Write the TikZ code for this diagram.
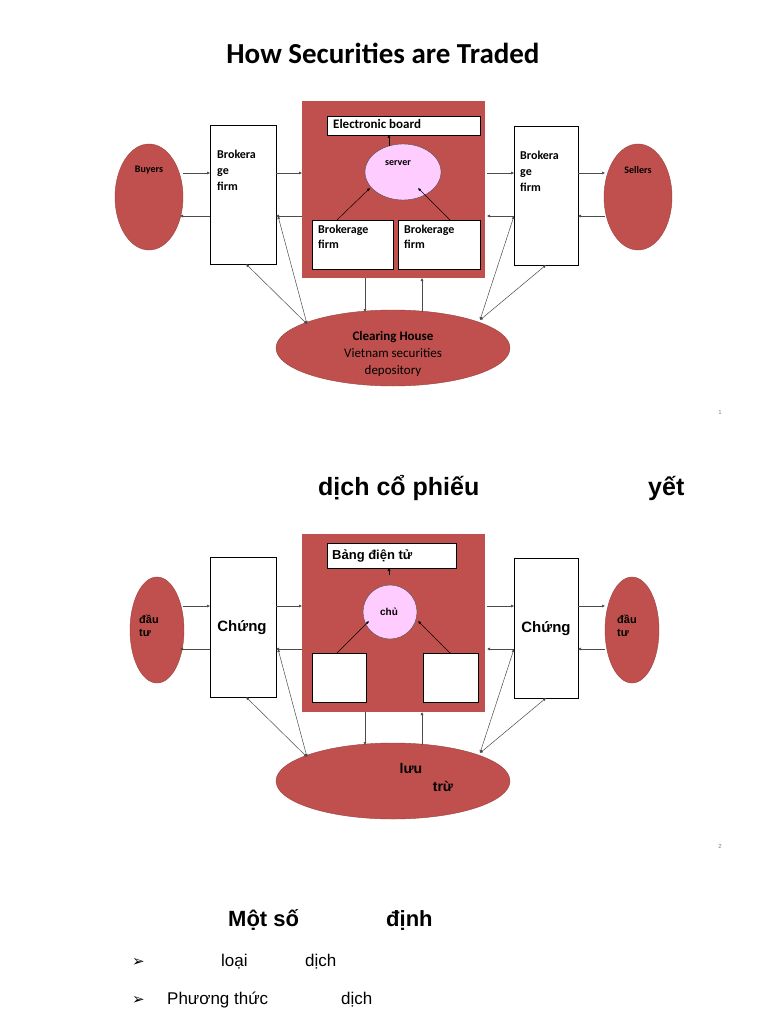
\documentclass[tikz,border=0pt]{standalone}
\usepackage{fontspec}
\setmainfont{Carlito}
\newfontfamily\arial{Liberation Sans}
\newfontfamily\dejavu{DejaVu Sans}
\usetikzlibrary{arrows.meta,shapes.geometric}
\definecolor{rd}{HTML}{C0504D}
\definecolor{pk}{HTML}{FFCCFF}
\begin{document}
\begin{tikzpicture}[x=1pt,y=-1pt,
  redell/.style={ellipse,fill=rd,draw=rd!80!black,line width=0.4pt},
  wbox/.style={draw=black,fill=white,line width=0.6pt},
  arr/.style={draw=gray!60!black,line width=0.5pt,-{Latex[length=3pt,width=3pt]}},
  darr/.style={draw=gray!60!black,line width=0.5pt,{Latex[length=3pt,width=3pt]}-{Latex[length=3pt,width=3pt]}},
  lab/.style={font=\bfseries\fontsize{12}{14}\selectfont,align=left,anchor=north west,inner sep=0pt},
  alab/.style={font=\arial\bfseries\fontsize{13}{15}\selectfont,align=left,inner sep=0pt}]
\useasboundingbox (0,0) rectangle (768,1024);
\fill[white] (0,0) rectangle (768,1024);
% ===== Diagram 1 =====
\node[font=\bfseries\fontsize{29}{34}\selectfont] (t1) at (383,53) {How Securities are Traded};
\node[redell,minimum width=68,minimum height=106] (buy) at (149,197) {};
\node[font=\bfseries\fontsize{10}{12}\selectfont] (buyl) at (149,170) {Buyers};
\node[redell,minimum width=68,minimum height=106] (sel) at (638,197) {};
\node[font=\bfseries\fontsize{10}{12}\selectfont] (sell) at (638,170) {Sellers};
\path[wbox] (210,125) rectangle (276,264); \coordinate (lb) at (243,194);
\node[lab] (lbt) at (217,150) {Brokera\\[2pt]ge\\[2pt]firm};
\path[wbox] (514,126) rectangle (578,265);
\node[lab] (rbt) at (520,151) {Brokera\\[2pt]ge\\[2pt]firm};
\fill[rd] (302,101) rectangle (485,278);
\path[wbox] (327,116) rectangle (480,135);
\node[lab,font=\bfseries\fontsize{13}{14}\selectfont] (eb) at (333,119) {Electronic board};
\node[ellipse,draw=black!70,fill=pk,minimum width=76,minimum height=56] (srv) at (403,172) {};
\node[font=\bfseries\fontsize{10}{12}\selectfont] (srvl) at (398,163) {server};
\path[wbox] (312,220) rectangle (393,269);
\path[wbox] (398,220) rectangle (480,269);
\node[lab] (bf1) at (318,225) {Brokerage\\[1pt]firm};
\node[lab] (bf2) at (404,225) {Brokerage\\[1pt]firm};
\node[redell,minimum width=234,minimum height=76] (ch) at (393,348) {};
\node[font=\fontsize{13}{17}\selectfont,align=center] (chl) at (393,354) {\textbf{Clearing House}\\Vietnam securities\\depository};
\draw[arr] (183,173) -- (210,173);
\draw[arr] (276,173) -- (302,173);
\draw[arr] (487,173) -- (514,173);
\draw[arr] (578,173) -- (605,173);
\draw[arr] (302,216) -- (276,216);
\draw[arr] (210,216) -- (180,216);
\draw[arr] (514,216) -- (487,216);
\draw[arr] (605,216) -- (578,216);
\draw[arr,draw=black] (389,146) -- (389,135);
\draw[arr,draw=black] (337,220) -- (370,188);
\draw[arr,draw=black] (450,220) -- (418,188);
\draw[arr] (365,278) -- (365,312);
\draw[arr] (422,312) -- (422,278);
\draw[darr] (246,264) -- (307,324);
\draw[darr] (278,216) -- (307,324);
\draw[darr] (514,216) -- (480,320);
\draw[darr] (546,265) -- (480,320);
\node[font=\arial\fontsize{6}{7}\selectfont,text=gray] (p1) at (720,412) {1};
% ===== Diagram 2 =====
\node[font=\arial\bfseries\fontsize{25}{30}\selectfont,anchor=west,inner sep=0pt] (t2a) at (318,488) {dịch cổ phiếu};
\node[font=\arial\bfseries\fontsize{25}{30}\selectfont,anchor=west,inner sep=0pt] (t2b) at (648,488) {yết};
\node[redell,minimum width=54,minimum height=106] (dt1) at (157,630) {};
\node[alab,font=\arial\bfseries\fontsize{11}{13}\selectfont] (dt1l) at (149,626) {đầu\\tư};
\node[redell,minimum width=54,minimum height=106] (dt2) at (632,630) {};
\node[alab,font=\arial\bfseries\fontsize{11}{13}\selectfont] (dt2l) at (627,626) {đầu\\tư};
\path[wbox] (210,557) rectangle (276,697);
\node[alab,font=\arial\bfseries\fontsize{15}{17}\selectfont] (c1) at (242,628) {Chứng};
\path[wbox] (514,558) rectangle (578,698);
\node[alab,font=\arial\bfseries\fontsize{15}{17}\selectfont] (c2) at (546,629) {Chứng};
\fill[rd] (302,534) rectangle (485,712);
\path[wbox] (327,543) rectangle (456,568);
\node[alab,anchor=west] (bdt) at (332,556) {Bảng điện tử};
\node[circle,draw=black!70,fill=pk,minimum size=54] (chu) at (390,612) {};
\node[alab,font=\arial\bfseries\fontsize{10}{12}\selectfont] (chul) at (389,612) {chủ};
\path[wbox] (312,653) rectangle (366,702);
\path[wbox] (423,653) rectangle (478,702);
\node[redell,minimum width=234,minimum height=76] (lt) at (393,781) {};
\node[alab,font=\arial\bfseries\fontsize{14}{16}\selectfont] (ltl1) at (411,768) {lưu};
\node[alab,font=\arial\bfseries\fontsize{14}{16}\selectfont] (ltl2) at (443,786) {trừ};
\draw[arr] (183,606) -- (210,606);
\draw[arr] (276,606) -- (302,606);
\draw[arr] (487,606) -- (514,606);
\draw[arr] (578,606) -- (605,606);
\draw[arr] (302,649) -- (276,649);
\draw[arr] (210,649) -- (180,649);
\draw[arr] (514,649) -- (487,649);
\draw[arr] (605,649) -- (578,649);
\draw[arr,draw=black] (389,575) -- (389,568);
\draw[arr,draw=black] (337,653) -- (369,621);
\draw[arr,draw=black] (450,653) -- (418,621);
\draw[arr] (365,712) -- (365,745);
\draw[arr] (422,745) -- (422,712);
\draw[darr] (246,697) -- (307,757);
\draw[darr] (278,649) -- (307,757);
\draw[darr] (514,649) -- (480,753);
\draw[darr] (546,698) -- (480,753);
\node[font=\arial\fontsize{6}{7}\selectfont,text=gray] (p2) at (720,846) {2};
% ===== Bottom =====
\node[font=\arial\bfseries\fontsize{22}{26}\selectfont,anchor=west,inner sep=0pt] (m1) at (228,920) {Một số};
\node[font=\arial\bfseries\fontsize{22}{26}\selectfont,anchor=west,inner sep=0pt] (m2) at (386,920) {định};
\node[font=\dejavu\fontsize{15}{17}\selectfont,anchor=west,inner sep=0pt] (b1) at (132,962) {➢};
\node[font=\arial\fontsize{17}{20}\selectfont,anchor=west,inner sep=0pt] (l1a) at (221,962) {loại};
\node[font=\arial\fontsize{17}{20}\selectfont,anchor=west,inner sep=0pt] (l1b) at (305,962) {dịch};
\node[font=\dejavu\fontsize{15}{17}\selectfont,anchor=west,inner sep=0pt] (b2) at (132,1000) {➢};
\node[font=\arial\fontsize{17}{20}\selectfont,anchor=west,inner sep=0pt] (l2a) at (167,1000) {Phương thức};
\node[font=\arial\fontsize{17}{20}\selectfont,anchor=west,inner sep=0pt] (l2b) at (341,1000) {dịch};
\end{tikzpicture}
\end{document}
